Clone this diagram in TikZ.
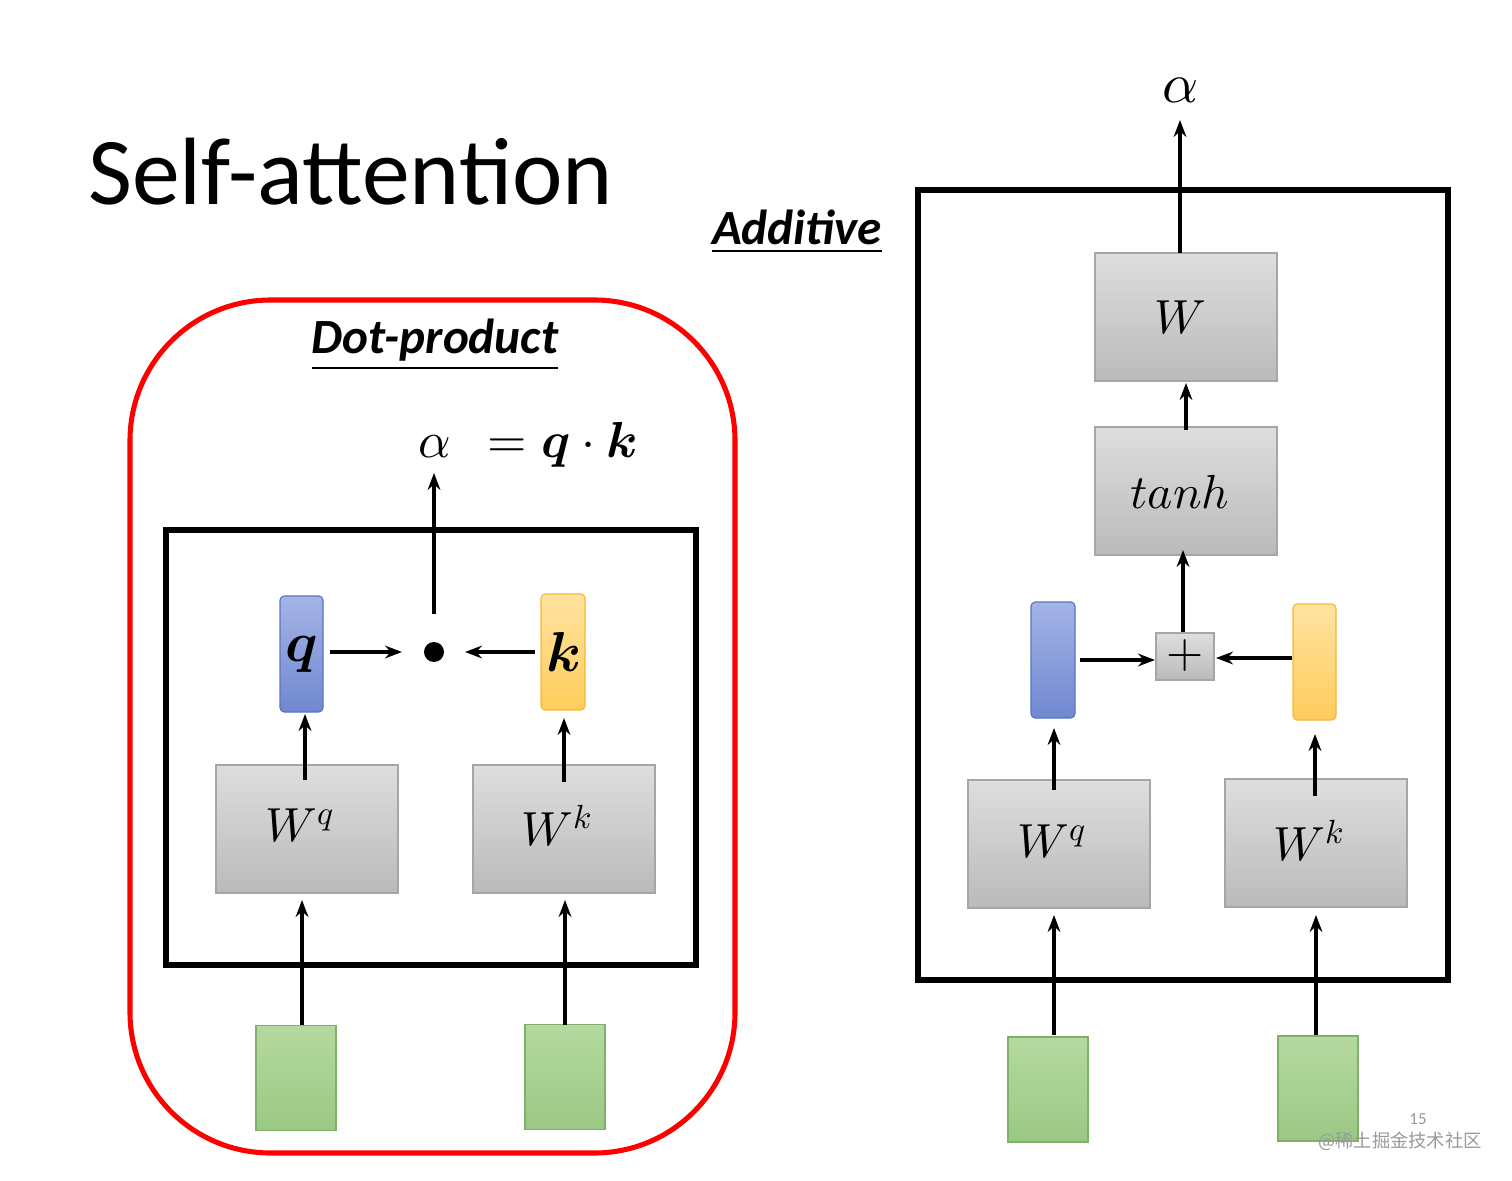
\documentclass[tikz,border=0pt]{standalone}
\usepackage{fontspec}
\usepackage{unicode-math}
\setmainfont{Carlito}
\setmathfont{Latin Modern Math}
\newfontfamily\cjk{Noto Sans CJK SC}
\usetikzlibrary{arrows.meta}
\definecolor{bt}{HTML}{A4B4E6}\definecolor{bb}{HTML}{7088D0}\definecolor{bd}{HTML}{5A72C4}
\definecolor{ot}{HTML}{FFE3A0}\definecolor{ob}{HTML}{FFCC5C}\definecolor{od}{HTML}{F2B838}
\definecolor{gt}{HTML}{B5D9A0}\definecolor{gb}{HTML}{9BC885}\definecolor{gd}{HTML}{7DB268}
\begin{document}
\begin{tikzpicture}[x=0.025cm,y=-0.025cm,
  gbox/.style={draw=black!35,top color=black!13,bottom color=black!27,line width=1pt,inner sep=0},
  grn/.style={draw=gd,line width=0.8pt,inner sep=0,top color=gt,bottom color=gb},
  blu/.style={draw=bd,rounded corners=3pt,top color=bt,bottom color=bb,line width=0.8pt,inner sep=0},
  org/.style={draw=od,rounded corners=3pt,top color=ot,bottom color=ob,line width=0.8pt,inner sep=0},
  ar/.style={line width=2.6pt,-{Stealth[length=12pt,width=9pt]}},
  ml/.style={font=\fontsize{34}{40}\selectfont},
  bx/.style={draw=black,line width=3.6pt}]
\useasboundingbox (0,0) rectangle (1512,1181);
\node[anchor=base west,font=\fontsize{68}{80}\selectfont,inner sep=0] (title) at (88,205) {Self-attention};
% Left
\draw[red,line width=3.6pt,rounded corners=100] (130,300) rectangle (735,1153);
\node[font=\fontsize{35}{40}\selectfont\bfseries\itshape] (dp) at (435,345) {\underline{Dot-product}};
\draw[bx] (166,530) rectangle (696,965);
\node[blu,minimum width=43*0.025cm,minimum height=116*0.025cm] (q) at (301.5,654) {\fontsize{40}{44}\selectfont$\symbfit{q}$};
\node[org,minimum width=44*0.025cm,minimum height=116*0.025cm] (k) at (563,652) {\fontsize{40}{44}\selectfont$\symbfit{k}$};
\node[circle,fill=black,inner sep=0,minimum size=20*0.025cm] (dot) at (434,652) {};
\coordinate (qe) at (330,652);\coordinate (kw) at (535,652);
\coordinate (dq) at (402,652);\coordinate (dk) at (465,652);
\draw[ar] (qe) -- (dq);
\draw[ar] (kw) -- (dk);
\coordinate (dtop) at (434,473);\coordinate (dbot) at (434,614);
\draw[ar] (dbot) -- (dtop);
\node[font=\fontsize{36}{40}\selectfont,anchor=base] (alpha1) at (528,457) {$\alpha\ \ =\symbfit{q}\cdot\symbfit{k}$};
\node[gbox,minimum width=182*0.025cm,minimum height=128*0.025cm] (wq1) at (307,829) {};
\node[ml] at (300,826) {$W^q$};
\node[gbox,minimum width=182*0.025cm,minimum height=128*0.025cm] (wk1) at (564,829) {};
\node[ml] at (557,826) {$W^k$};
\draw[ar] (305,780) -- (305,714);
\draw[ar] (564,782) -- (564,718);
\node[grn,minimum width=80*0.025cm,minimum height=105*0.025cm] (g1) at (296,1078) {};
\node[grn,minimum width=80*0.025cm,minimum height=105*0.025cm] (g2) at (565,1077) {};
\draw[ar] (302,1025) -- (302,900);
\draw[ar] (565,1025) -- (565,900);
% Right
\node[font=\fontsize{35}{40}\selectfont\bfseries\itshape] (add) at (797,232) {\underline{Additive}};
\draw[bx] (918,190) rectangle (1448,980);
\node[gbox,minimum width=182*0.025cm,minimum height=128*0.025cm] (w) at (1186,317) {};
\node[ml] at (1180,318) {$W$};
\node[gbox,minimum width=182*0.025cm,minimum height=128*0.025cm] (th) at (1186,491) {};
\node[ml] at (1180,492) {$tanh$};
\node[gbox,minimum width=58*0.025cm,minimum height=47*0.025cm] (plus) at (1185,656.5) {};
\node[ml] at (1185,656) {$+$};
\node[blu,minimum width=44*0.025cm,minimum height=116*0.025cm] (b2) at (1053,660) {};
\node[org,minimum width=43*0.025cm,minimum height=116*0.025cm] (o2) at (1314.5,662) {};
\node[gbox,minimum width=182*0.025cm,minimum height=128*0.025cm] (wq2) at (1059,844) {};
\node[ml] at (1052,842) {$W^q$};
\node[gbox,minimum width=182*0.025cm,minimum height=128*0.025cm] (wk2) at (1316,843) {};
\node[ml] at (1309,841) {$W^k$};
\node[grn,minimum width=80*0.025cm,minimum height=105*0.025cm] (g3) at (1048,1089.5) {};
\node[grn,minimum width=80*0.025cm,minimum height=105*0.025cm] (g4) at (1318,1088.5) {};
\node[font=\fontsize{40}{44}\selectfont] (alpha2) at (1180,90) {$\alpha$};
\draw[ar] (1180,253) -- (1180,120);
\draw[ar] (1186,430) -- (1186,383);
\draw[ar] (1183,632) -- (1183,550);
\draw[ar] (1080,660) -- (1155,660);
\draw[ar] (1292,658) -- (1216,658);
\draw[ar] (1054,790) -- (1054,728);
\draw[ar] (1315,796) -- (1315,734);
\draw[ar] (1054,1035) -- (1054,915);
\draw[ar] (1316,1035) -- (1316,915);
\node[font=\fontsize{13}{15}\selectfont\cjk,text=black!40] (wm) at (1400,1141) {@稀土掘金技术社区};
\node[font=\fontsize{12}{14}\selectfont,text=black!40,anchor=south] (pg) at (1418,1130) {15};
\end{tikzpicture}
\end{document}
